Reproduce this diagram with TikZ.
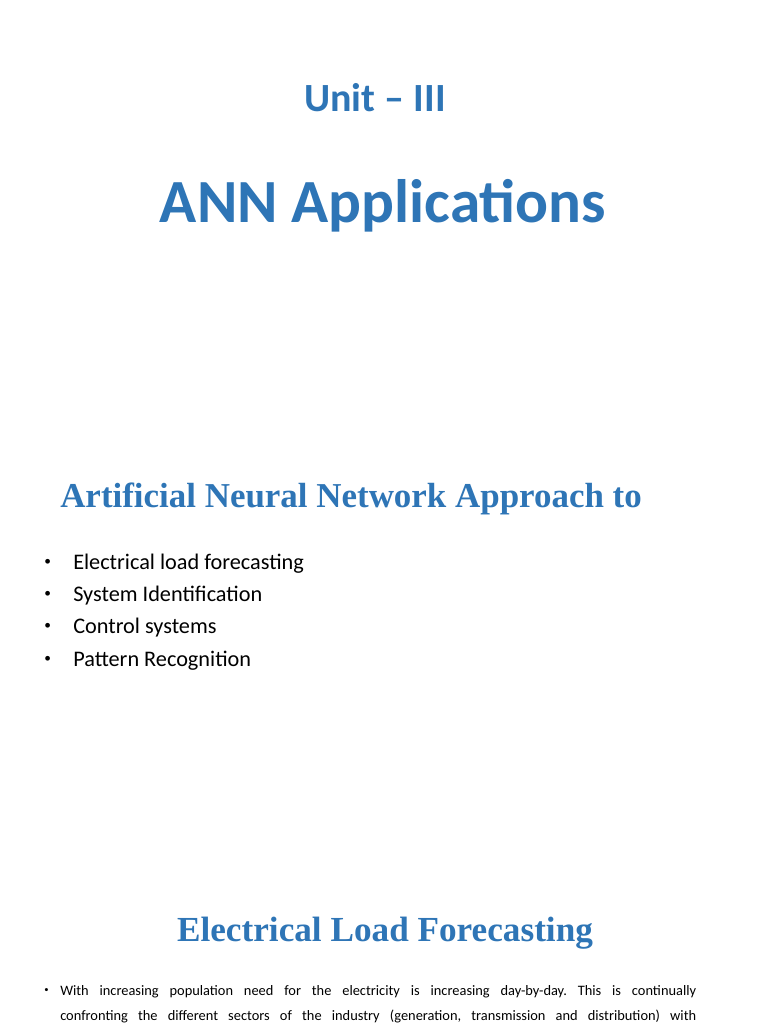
\documentclass[tikz,border=0pt]{standalone}
\usepackage{fontspec}
\setmainfont{Carlito}
\newfontfamily\tms{Liberation Serif}
\definecolor{tblue}{HTML}{2E75B6}
\newcommand{\smbul}{\raisebox{0.15em}{\scalebox{0.6}{•}}}
\begin{document}
\frenchspacing
\begin{tikzpicture}[x=0.75pt,y=-0.75pt,
  blt/.style={anchor=base west,inner sep=0pt,font=\fontsize{16.7}{20}\selectfont},
  para/.style={anchor=base west,inner sep=0pt,font=\fontsize{10.8}{13}\selectfont}]
\useasboundingbox (0,0) rectangle (768,1024);
\fill[white] (0,0) rectangle (768,1024);
\node[text=tblue,inner sep=0pt,anchor=base,font=\bfseries\fontsize{30}{34}\selectfont] (unit) at (375,111) {Unit – III};
\node[text=tblue,inner sep=0pt,anchor=base,font=\bfseries\fontsize{46}{52}\selectfont] (ann) at (383,222) {ANN Applications};
\node[text=tblue,inner sep=0pt,anchor=base west,font=\tms\bfseries\fontsize{26.2}{30}\selectfont] (appr) at (60,507) {\frenchspacing Artificial Neural Network Approach to};
\node[blt] (b0) at (44,569) {\smbul};
\node[blt] (i1) at (73,569) {Electrical load forecasting};
\node[blt] (b1) at (44,601) {\smbul};
\node[blt] (i2) at (73,601) {System Identification};
\node[blt] (b2) at (44,633) {\smbul};
\node[blt] (i3) at (73,633) {Control systems};
\node[blt] (b3) at (44,666) {\smbul};
\node[blt] (i4) at (73,666) {Pattern Recognition};
\node[text=tblue,inner sep=0pt,anchor=base,font=\tms\bfseries\fontsize{26.4}{30}\selectfont] (elf) at (385,941) {Electrical Load Forecasting};
\node[para] (pb) at (44,995) {\smbul};
\node[para] (l1) at (60,995) {\makebox[477pt][s]{\frenchspacing With increasing population need for the electricity is increasing day-by-day. This is continually}};
\node[para] (l2) at (60,1020) {\makebox[477pt][s]{confronting the different sectors of the industry (generation, transmission and distribution) with}};
\end{tikzpicture}
\end{document}
